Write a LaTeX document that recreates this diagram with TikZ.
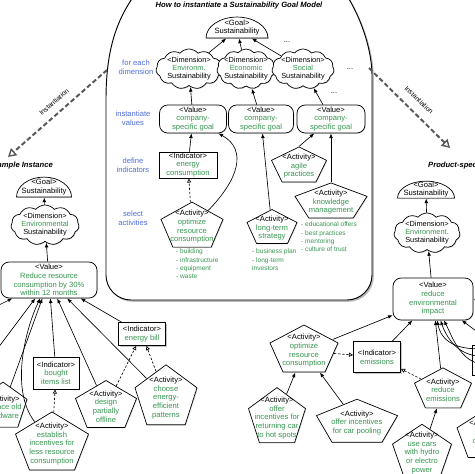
\documentclass[tikz,border=0pt]{standalone}
\usepackage{fontspec}
\setmainfont{Liberation Sans}
\usetikzlibrary{shapes.geometric,shapes.symbols,shadows,arrows.meta,calc}

\definecolor{grn}{RGB}{55,150,80}
\definecolor{lblue}{RGB}{80,110,220}

\tikzset{
  tbase/.style={font=\fontsize{6.5}{7.4}\selectfont, align=center, inner sep=0pt},
  gtxt/.style={tbase, text=grn},
  ctxt/.style={tbase, font=\fontsize{6.3}{6.9}\selectfont},
  lst/.style={font=\fontsize{5.6}{6.9}\selectfont, align=left, anchor=north west, inner sep=0pt, text=grn},
  lbl/.style={tbase, text=lblue},
  ttl/.style={font=\fontsize{6.5}{7.4}\selectfont\bfseries\itshape, inner sep=0pt},
  shdw/.style={drop shadow={shadow xshift=0.6pt, shadow yshift=-0.6pt, fill=black!40}},
  goalnode/.style 2 args={semicircle, draw, line width=0.6pt, fill=white, shdw, inner sep=0pt, minimum width=1cm, minimum height=0.5cm, anchor=chord center, xscale=#1*0.03, yscale=#2*0.06, transform shape},
  dimnode/.style 2 args={cloud, cloud puffs=11, cloud puff arc=100, cloud ignores aspect, draw, line width=0.6pt, fill=white, shdw, inner sep=0pt, minimum width=#1*0.03cm, minimum height=#2*0.03cm},
  valnode/.style 2 args={gtxt, draw=black, line width=0.6pt, fill=white, shdw, rounded corners=7pt, minimum width=#1*0.03cm, minimum height=#2*0.03cm},
  indnode/.style 2 args={gtxt, draw=black, line width=0.75pt, fill=white, drop shadow={shadow xshift=0.9pt, shadow yshift=-0.9pt, fill=black!45}, minimum width=#1*0.03cm, minimum height=#2*0.03cm},
  actnode/.style 2 args={regular polygon, regular polygon sides=5, draw, line width=0.6pt, fill=white, shdw, inner sep=0pt, minimum size=1cm, xscale=#1*0.031546, yscale=#2*0.033167, transform shape},
  arr/.style={-{Latex[length=4pt, width=3.2pt]}, line width=0.55pt},
  meas/.style={dash pattern=on 2pt off 1.5pt, -{Triangle[open, length=3.5pt, width=3.5pt]}, line width=0.55pt},
  inst/.style={draw=black!65, line width=1.7pt, dash pattern=on 4pt off 2.2pt, -{Triangle[open, length=7pt, width=8pt, line width=1.2pt]}},
}

\begin{document}
\begin{tikzpicture}[x=0.03cm, y=-0.03cm]
\useasboundingbox (0,0) rectangle (474,474);

% model frame
\draw[line width=0.8pt, fill=white, drop shadow={shadow xshift=1.5pt, shadow yshift=-1.5pt, fill=black!55}]
  (140,-12) .. controls (114,20) and (106,55) .. (106,100)
  [rounded corners=0.75cm] -- (106,300) -- (372,300) -- (372,100) [sharp corners]
  .. controls (372,55) and (364,20) .. (342,-12);
\node[ttl] (modt) at (239,5.5) {How to instantiate a Sustainability Goal Model};

% step labels
\node[lbl] (s1) at (136,67) {for each\\dimension};
\node[lbl] (s2) at (133,118) {instantiate\\values};
\node[lbl] (s3) at (133,165) {define\\indicators};
\node[lbl] (s4) at (133,218) {select\\activities};

% goal model
\node[goalnode={62}{21}] (g0) at (237,38.5) {};
\node[tbase] (g0t) at ($(g0.chord center)!0.5!(g0.apex)$) {<Goal>\\Sustainability};
\node[dimnode={66}{40}] (d1) at (189,69) {};
\node[ctxt] (d1t) at (d1) {<Dimension>\\\textcolor{grn}{Environm.}\\Sustainability};
\node[dimnode={58}{40}] (d2) at (246,69) {};
\node[ctxt] (d2t) at (d2) {<Dimension>\\\textcolor{grn}{Economic}\\Sustainability};
\node[dimnode={62}{40}] (d3) at (303,69) {};
\node[ctxt] (d3t) at (d3) {<Dimension>\\\textcolor{grn}{Social}\\Sustainability};
\node[tbase] (dots1) at (287,42) {...};
\node[tbase] (dots2) at (350,69) {...};
\node[tbase] (dots3) at (334,93) {...};

\node[valnode={67}{28}] (v1) at (193,119) {\textcolor{black}{<Value>}\\company-\\specific goal};
\node[valnode={65}{28}] (v2) at (261,119) {\textcolor{black}{<Value>}\\company-\\specific goal};
\node[valnode={68}{28}] (v3) at (331,119) {\textcolor{black}{<Value>}\\company-\\specific goal};

\node[indnode={58}{26}] (i1) at (188,165) {\textcolor{black}{<Indicator>}\\energy\\consumption};

\node[actnode={62}{45}] (a1) at (192,227) {};
\node[gtxt] (a1t) at (a1) {\textcolor{black}{<Activity>}\\optimize\\resource\\consumption};
\node[actnode={50}{34}] (a2) at (272,228.3) {};
\node[gtxt] (a2t) at (a2) {\textcolor{black}{<Activity>}\\long-term\\strategy};
\node[actnode={55}{35}] (a3) at (299,166.3) {};
\node[gtxt] (a3t) at (a3) {\textcolor{black}{<Activity>}\\agile\\practices};
\node[actnode={72}{35}] (a4) at (331,202.3) {};
\node[gtxt] (a4t) at (a4) {\textcolor{black}{<Activity>}\\knowledge\\management};

\node[lst] (l1) at (176,249) {- building\\- infrastructure\\- equipment\\- waste};
\node[lst] (l2) at (252,249) {- business plan\\- long-term\\investors};
\node[lst] (l3) at (301,222) {- educational offers\\- best practices\\- mentoring\\- culture of trust};

\draw[arr] (d1) -- (g0);
\draw[arr] (d2) -- (g0);
\draw[arr] (d3) -- (g0);
\draw[arr] (v1) -- (d1);
\draw[arr] (v2) -- (d2);
\draw[arr] (v3) -- (d3);
\draw[arr] (i1) -- (v1);
\draw[meas] (a1) -- (i1);
\draw[arr] (a1) .. controls (238,180) and (248,150) .. (v1);
\draw[arr] (a2) -- (v2);
\draw[arr] (a3.north) -- (v3);
\draw[arr] (a4) -- (v3);

% instantiation
\coordinate (fl) at (107,70);
\coordinate (tl) at (8,157);
\coordinate (fr) at (369,68);
\coordinate (tr) at (450,148);
\draw[inst] (fl) -- (tl);
\draw[inst] (fr) -- (tr);
\node[tbase, font=\fontsize{5.8}{7}\selectfont, rotate=41] (il) at (54,102) {Instantiation};
\node[tbase, font=\fontsize{5.8}{7}\selectfont, rotate=-44] (ir) at (419,100) {Instantiation};

% example instance
\node[ttl, anchor=east] (ext) at (53,166) {Example Instance};
\node[goalnode={55}{20}] (gl) at (44,197.5) {};
\node[tbase] (glt) at ($(gl.chord center)!0.5!(gl.apex)$) {<Goal>\\Sustainability};
\node[dimnode={68}{40}] (dl) at (45,225) {};
\node[ctxt] (dlt) at (dl) {<Dimension>\\\textcolor{grn}{Environmental}\\Sustainability};
\node[valnode={96}{36}] (vl) at (49,280) {\textcolor{black}{<Value>}\\Reduce resource\\consumption by 30\%\\within 12 months};
\node[indnode={47}{23}] (ebill) at (142,334) {\textcolor{black}{<Indicator>}\\energy bill};
\node[indnode={46}{32}] (bought) at (56,373) {\textcolor{black}{<Indicator>}\\bought\\items list};
\node[actnode={61}{47}] (design) at (106,406.5) {};
\node[gtxt] (designt) at (design) {\textcolor{black}{<Activity>}\\design\\partially\\offline};
\node[actnode={62}{60}] (choose) at (166,398) {};
\node[gtxt] (chooset) at (choose) {\textcolor{black}{<Activity>}\\choose\\energy-\\efficient\\patterns};
\node[actnode={73}{58}] (establish) at (52,444) {};
\node[gtxt] (establisht) at (establish) {\textcolor{black}{<Activity>}\\establish\\incentives for\\less resource\\consumption};
\node[actnode={48}{45}] (oldhw) at (3,407) {};
\node[gtxt] (oldhwt) at (oldhw) {\textcolor{black}{<Activity>}\\replace old\\hardware};
\coordinate (offl) at (-20,372);
\coordinate (offl2) at (-15,312);

\draw[arr] (dl) -- (gl);
\draw[arr] (vl) -- (dl);
\draw[arr] (offl) -- (vl);
\draw[arr] (offl2) -- (vl);
\draw[arr] (oldhw) -- (vl);
\draw[arr] (establish) .. controls (10,390) and (25,330) .. (vl);
\draw[arr] (bought) -- (vl);
\draw[arr] (design) -- (vl);
\draw[arr] (choose) -- (vl);
\draw[arr] (ebill) -- (vl);
\draw[meas] (design) -- (ebill);
\draw[meas] (choose) -- (ebill);
\draw[meas] (establish) -- (bought);

% product-specific instance
\node[ttl, anchor=west] (prt) at (428,166) {Product-specific Instance};
\node[goalnode={57}{17}] (gr) at (426,198.5) {};
\node[tbase] (grt) at ($(gr.chord center)!0.5!(gr.apex)$) {<Goal>\\Sustainability};
\node[dimnode={66}{40}] (dr) at (427,233) {};
\node[ctxt] (drt) at (dr) {<Dimension>\\\textcolor{grn}{Environment.}\\Sustainability};
\node[valnode={80}{42}] (vr) at (433,299) {\textcolor{black}{<Value>}\\reduce\\environmental\\impact};
\node[actnode={68}{47}] (opt) at (304,351) {};
\node[gtxt] (optt) at (opt) {\textcolor{black}{<Activity>}\\optimize\\resource\\consumption};
\node[indnode={47}{31}] (emis) at (377,357) {\textcolor{black}{<Indicator>}\\emissions};
\node[indnode={45}{30}] (rbox) at (495,360) {};
\node[actnode={57}{40}] (red) at (443,390) {};
\node[gtxt] (redt) at (red) {\textcolor{black}{<Activity>}\\reduce\\emissions};
\node[actnode={59}{52}] (use) at (422,453) {};
\node[gtxt] (uset) at (use) {\textcolor{black}{<Activity>}\\use cars\\with hydro\\or electro\\power};
\node[actnode={57}{55}] (ret) at (277,418) {};
\node[gtxt] (rett) at (ret) {\textcolor{black}{<Activity>}\\offer\\incentives for\\returning car\\to hot spots};
\node[actnode={81}{43}] (pool) at (357,423) {};
\node[gtxt] (poolt) at (pool) {\textcolor{black}{<Activity>}\\offer incentives\\for car pooling};
\node[actnode={58}{48}] (rpart) at (486,436) {};
\node[gtxt] (rpartt) at (rpart) {\textcolor{black}{<Activity>}\\avoid\\old cars\\fleet};
\coordinate (r1) at (490,348);
\coordinate (r2) at (490,356);
\coordinate (r3) at (490,364);
\coordinate (r4) at (495,345);
\coordinate (r5) at (490,300);

\draw[arr] (dr) -- (gr);
\draw[arr] (vr) -- (dr);
\draw[arr] (opt) -- (vr);
\draw[meas] (opt) -- (emis);
\draw[arr] (emis) -- (vr);
\draw[meas] (red) -- (emis);
\draw[arr] (red) -- (vr);
\draw[arr] (use) -- (red);
\draw[arr] (ret) -- (opt);
\draw[arr] (pool) -- (opt);
\draw[arr] (r1) .. controls (455,352) and (441,340) .. (vr);
\draw[arr] (r2) .. controls (458,360) and (446,336) .. (vr);
\draw[arr] (r3) .. controls (462,368) and (452,336) .. (vr);
\draw[arr] (r4) -- (vr);
\draw[arr] (r5) -- (vr);
\end{tikzpicture}
\end{document}
